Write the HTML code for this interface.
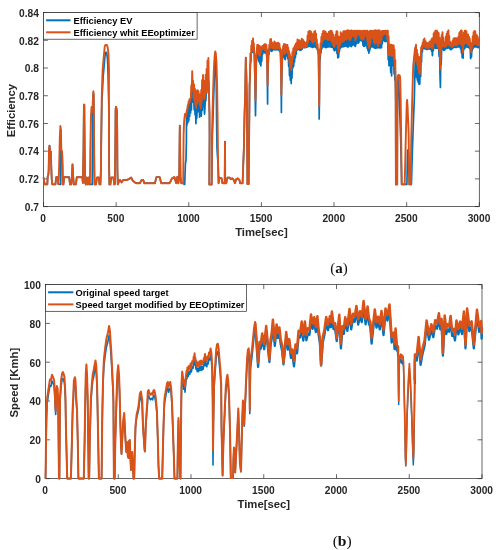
<!DOCTYPE html>
<html><head><meta charset="utf-8"><title>Figure</title>
<style>
html,body{margin:0;padding:0;background:#fff;}
svg{display:block;}
text{font-family:"Liberation Sans",sans-serif;font-weight:bold;fill:#262626;}
.tk{font-size:10.2px;}
.lb{font-size:11.3px;}
.lg{font-size:9.3px;fill:#000;}
.cap{font-family:"Liberation Serif",serif;font-weight:normal;font-size:15px;fill:#111;}
.cap tspan{font-weight:bold;}
</style></head><body>
<svg width="501" height="550" viewBox="0 0 501 550">
<rect width="501" height="550" fill="#fff"/>
<rect x="43.5" y="12.6" width="435.8" height="194.0" fill="none" stroke="#262626" stroke-width="0.7"/>
<path d="M43.50 206.6 V202.2 M43.50 12.6 V17.0" stroke="#262626" stroke-width="0.7"/>
<text x="43.20" y="222.0" text-anchor="middle" class="tk">0</text>
<path d="M116.13 206.6 V202.2 M116.13 12.6 V17.0" stroke="#262626" stroke-width="0.7"/>
<text x="115.83" y="222.0" text-anchor="middle" class="tk">500</text>
<path d="M188.77 206.6 V202.2 M188.77 12.6 V17.0" stroke="#262626" stroke-width="0.7"/>
<text x="188.47" y="222.0" text-anchor="middle" class="tk">1000</text>
<path d="M261.40 206.6 V202.2 M261.40 12.6 V17.0" stroke="#262626" stroke-width="0.7"/>
<text x="261.10" y="222.0" text-anchor="middle" class="tk">1500</text>
<path d="M334.03 206.6 V202.2 M334.03 12.6 V17.0" stroke="#262626" stroke-width="0.7"/>
<text x="333.73" y="222.0" text-anchor="middle" class="tk">2000</text>
<path d="M406.67 206.6 V202.2 M406.67 12.6 V17.0" stroke="#262626" stroke-width="0.7"/>
<text x="406.37" y="222.0" text-anchor="middle" class="tk">2500</text>
<path d="M479.30 206.6 V202.2 M479.30 12.6 V17.0" stroke="#262626" stroke-width="0.7"/>
<text x="479.00" y="222.0" text-anchor="middle" class="tk">3000</text>
<path d="M43.5 206.60 H47.9 M479.3 206.60 H474.90000000000003" stroke="#262626" stroke-width="0.7"/>
<text x="38.9" y="210.90" text-anchor="end" class="tk">0.7</text>
<path d="M43.5 178.89 H47.9 M479.3 178.89 H474.90000000000003" stroke="#262626" stroke-width="0.7"/>
<text x="38.9" y="183.19" text-anchor="end" class="tk">0.72</text>
<path d="M43.5 151.17 H47.9 M479.3 151.17 H474.90000000000003" stroke="#262626" stroke-width="0.7"/>
<text x="38.9" y="155.47" text-anchor="end" class="tk">0.74</text>
<path d="M43.5 123.46 H47.9 M479.3 123.46 H474.90000000000003" stroke="#262626" stroke-width="0.7"/>
<text x="38.9" y="127.76" text-anchor="end" class="tk">0.76</text>
<path d="M43.5 95.74 H47.9 M479.3 95.74 H474.90000000000003" stroke="#262626" stroke-width="0.7"/>
<text x="38.9" y="100.04" text-anchor="end" class="tk">0.78</text>
<path d="M43.5 68.03 H47.9 M479.3 68.03 H474.90000000000003" stroke="#262626" stroke-width="0.7"/>
<text x="38.9" y="72.33" text-anchor="end" class="tk">0.8</text>
<path d="M43.5 40.31 H47.9 M479.3 40.31 H474.90000000000003" stroke="#262626" stroke-width="0.7"/>
<text x="38.9" y="44.61" text-anchor="end" class="tk">0.82</text>
<path d="M43.5 12.60 H47.9 M479.3 12.60 H474.90000000000003" stroke="#262626" stroke-width="0.7"/>
<text x="38.9" y="16.90" text-anchor="end" class="tk">0.84</text>
<polyline points="43.6,177.5 44.2,182.0 45.0,184.4 45.5,184.4 45.9,184.4 46.4,184.4 46.8,184.4 47.3,184.4 47.7,176.5 48.4,174.5 48.7,170.0 49.0,150.0 49.5,145.7 50.0,150.0 50.4,151.6 50.9,151.6 51.2,165.0 51.7,179.0 52.3,184.4 52.8,184.4 53.3,184.4 53.8,184.4 54.4,184.4 54.9,184.4 55.4,184.4 56.2,177.2 56.7,177.2 57.3,177.2 57.8,177.2 58.3,184.0 58.8,184.1 59.2,184.2 59.7,184.3 60.2,184.4 60.6,184.4 60.7,160.0 60.8,130.0 61.3,150.5 62.1,152.0 62.5,165.0 62.8,184.4 63.4,184.4 64.1,177.2 64.6,177.2 65.0,177.2 65.5,177.2 66.0,177.2 66.4,177.2 66.9,177.2 67.3,177.2 67.8,177.2 68.3,177.2 68.7,177.2 69.2,177.2 70.0,184.4 70.7,184.4 71.3,184.4 71.9,177.0 72.5,164.4 73.2,177.0 73.8,184.4 74.3,184.4 74.8,184.4 75.4,184.4 75.9,184.4 76.8,177.2 77.3,177.2 77.7,177.2 78.2,177.2 78.6,177.2 79.1,177.2 79.5,177.2 80.0,177.2 80.5,177.2 80.9,177.2 81.4,177.2 81.8,177.2 82.3,177.2 82.9,183.0 83.5,150.0 83.9,104.6 84.3,104.6 84.7,150.0 85.2,183.0 85.8,184.4 86.6,177.5 87.4,184.4 88.3,177.5 88.8,180.9 89.2,184.4 89.7,184.4 90.2,184.4 90.7,184.4 91.2,184.4 91.7,184.4 92.2,184.4 92.4,150.0 92.6,112.0 93.1,97.0 93.4,93.0 93.7,96.0 94.0,130.0 94.3,170.0 94.6,184.4 95.1,184.4 95.5,184.4 96.0,184.4 96.5,180.9 97.0,177.5 97.6,177.5 98.2,177.5 98.8,177.5 99.5,184.4 100.0,184.4 100.4,184.4 100.9,170.0 101.3,135.0 101.9,100.0 102.5,90.0 103.2,76.0 103.7,70.6 104.2,65.2 104.8,58.0 105.4,53.2 106.1,52.1 106.7,53.2 107.4,58.0 107.8,65.2 108.1,76.0 108.4,90.0 108.7,100.0 108.9,110.0 109.0,135.0 109.1,165.0 109.4,184.4 109.9,184.4 110.4,184.4 111.2,177.5 111.8,177.5 112.3,177.5 112.9,177.5 113.4,177.5 114.2,184.4 114.9,184.0 115.3,150.0 115.6,110.0 115.9,106.8 116.4,108.0 116.9,111.0 117.2,130.0 117.4,170.0 117.8,184.4 118.4,182.9 118.9,181.5 119.5,180.0 120.0,180.0 120.5,180.8 121.1,181.6 121.6,182.4 122.1,181.6 122.7,180.8 123.2,180.0 123.7,180.0 124.1,180.0 124.6,180.0 125.0,180.0 125.5,180.0 125.9,180.0 126.4,180.0 126.9,179.8 127.4,179.7 127.8,179.5 128.3,179.4 128.8,179.2 129.3,178.9 129.8,178.6 130.2,178.2 130.7,177.9 131.2,177.6 132.0,179.2 132.8,180.8 133.3,181.1 133.7,181.5 134.2,181.8 134.6,182.2 135.1,182.5 135.5,182.9 136.0,183.2 136.5,183.2 137.0,183.2 137.5,183.2 138.0,183.2 138.5,183.2 139.0,183.2 139.5,183.2 140.0,183.2 140.5,182.1 141.1,181.1 141.6,180.0 142.1,180.0 142.7,180.0 143.2,180.0 143.8,181.6 144.3,183.2 144.8,183.2 145.2,183.2 145.7,183.2 146.2,183.2 146.6,183.2 147.1,183.2 147.5,183.2 148.0,183.2 148.5,183.2 148.9,183.2 149.4,183.2 149.8,183.2 150.3,183.2 150.7,183.2 151.2,183.2 151.7,183.2 152.1,183.2 152.6,183.2 153.0,183.2 153.5,183.2 154.0,183.2 154.4,183.2 154.9,183.2 155.4,181.2 155.9,179.1 156.5,177.1 156.9,177.1 157.4,177.1 157.9,177.1 158.3,177.1 158.8,177.1 159.2,177.1 159.7,177.1 160.2,179.1 160.7,181.2 161.3,183.2 161.7,183.2 162.2,183.2 162.7,183.2 163.1,183.2 163.6,183.2 164.1,183.2 164.5,183.2 165.0,183.2 165.4,183.2 165.9,183.2 166.4,183.2 166.8,183.2 167.3,183.2 167.8,183.2 168.2,183.2 168.7,183.2 169.1,183.2 169.6,183.2 170.1,182.2 170.6,181.3 171.0,180.3 171.5,179.4 172.0,178.4 172.5,178.1 173.0,177.9 173.4,177.6 173.9,177.4 174.4,177.1 175.2,180.0 175.8,181.6 176.3,183.2 176.8,180.0 177.3,176.8 177.8,180.0 178.4,183.2 179.2,176.8 179.8,125.6 180.5,176.8 181.3,183.2 181.8,183.2 182.2,183.2 182.7,183.2 183.2,183.2 183.7,183.8 184.2,184.4 184.7,184.4 185.4,164.0 186.0,160.0 186.4,142.0 186.5,114.7 186.9,125.6 187.4,109.1 187.8,123.0 188.3,104.6 188.8,120.9 189.2,102.9 189.7,116.5 190.1,101.6 190.6,113.0 191.0,96.6 191.4,109.9 191.9,89.1 192.3,102.3 192.8,88.6 193.2,99.3 193.7,97.5 194.2,110.0 194.6,100.3 195.1,114.9 195.5,104.4 195.9,123.7 196.4,108.5 196.8,118.2 197.3,101.9 197.8,111.9 198.2,100.0 198.7,110.8 199.1,101.0 199.6,117.1 200.0,105.0 200.4,113.9 200.9,107.3 201.3,116.1 201.8,100.8 202.2,110.4 202.7,96.6 203.2,105.8 203.6,96.3 204.1,106.6 204.5,114.1 204.9,108.6 205.4,96.0 205.8,101.0 206.3,91.0 206.8,92.9 207.2,86.5 207.7,84.2 208.1,82.0 208.6,81.0 209.0,89.6 209.5,116.8 209.6,135.0 209.3,184.5 209.8,184.5 210.2,184.5 210.7,184.5 211.2,184.5 211.7,184.5 212.4,135.0 213.2,112.3 213.6,98.6 214.1,85.0 214.7,66.8 215.5,58.6 216.0,66.8 216.4,94.1 216.6,121.4 217.0,148.6 217.5,156.3 218.1,164.0 218.6,183.2 219.0,180.4 219.5,177.6 220.0,177.8 220.6,178.0 221.1,178.2 221.6,178.4 222.4,183.2 223.0,183.2 223.7,183.2 224.2,183.2 224.7,183.2 225.0,141.6 225.2,183.2 225.7,183.2 226.2,183.2 226.8,180.4 227.4,177.6 227.9,177.6 228.4,177.6 228.8,177.6 229.3,177.6 229.8,177.6 230.6,179.2 231.1,178.9 231.7,178.7 232.2,178.4 232.7,178.9 233.3,179.5 233.8,180.0 234.4,181.6 234.9,183.2 235.6,181.2 236.2,179.2 236.7,178.9 237.3,178.7 237.8,178.4 238.3,178.9 238.9,179.5 239.4,180.0 240.2,183.2 240.7,183.2 241.2,183.2 241.6,183.2 242.1,183.2 242.6,183.2 243.2,165.6 243.9,148.0 244.5,116.0 245.0,100.0 245.2,92.0 245.8,57.6 246.4,76.0 246.9,100.0 247.1,132.0 247.4,184.0 248.0,184.0 248.7,184.0 249.0,148.0 249.6,85.5 250.0,76.9 250.4,64.4 250.9,61.3 251.3,52.5 251.7,52.6 252.1,50.0 252.5,52.1 253.0,49.7 253.4,52.2 253.8,50.4 254.2,52.9 254.6,61.6 255.1,91.4 255.5,115.7 255.9,89.7 256.3,59.1 256.7,55.7 257.2,52.5 257.6,57.5 258.0,52.2 258.4,60.6 258.8,54.7 259.3,62.3 259.7,55.2 260.1,64.1 260.5,53.4 260.9,65.9 261.4,50.2 261.8,61.2 262.2,49.4 262.6,54.7 263.0,48.3 263.5,51.6 263.9,48.4 264.3,52.7 264.7,48.9 265.1,52.9 265.6,49.9 266.0,53.1 266.4,50.9 266.8,57.5 267.2,66.8 267.6,104.0 267.7,82.1 268.1,68.5 268.5,53.7 268.9,54.8 269.3,48.6 269.8,50.6 270.2,47.8 270.6,50.2 271.0,47.4 271.4,51.3 271.9,47.3 272.3,50.8 272.7,47.7 273.1,49.5 273.5,48.0 274.0,49.7 274.4,48.2 274.8,49.8 275.2,48.1 275.6,49.9 276.1,47.9 276.5,49.7 276.9,47.7 277.3,49.6 277.7,48.0 278.2,49.7 278.6,48.2 279.0,50.5 279.4,48.8 279.8,51.3 280.3,50.1 280.7,58.2 281.1,77.7 281.4,112.4 281.5,88.5 281.9,72.9 282.4,54.7 282.8,57.3 283.2,50.6 283.6,56.0 284.0,52.2 284.5,58.9 284.9,52.8 285.3,59.7 285.7,51.8 286.1,56.1 286.6,51.0 287.0,55.3 287.4,51.9 287.8,58.6 288.2,54.2 288.7,66.4 289.1,59.8 289.5,75.8 289.9,64.2 290.3,80.2 290.8,69.4 291.2,83.6 291.6,68.2 292.0,78.2 292.4,60.4 292.9,68.0 293.3,55.5 293.7,66.3 294.1,54.2 294.5,61.9 295.0,51.7 295.4,57.6 295.8,49.6 296.2,54.2 296.6,48.7 297.1,49.9 297.5,47.9 297.9,49.6 298.3,47.1 298.7,49.4 299.2,47.4 299.6,49.8 300.0,47.7 300.4,50.5 300.8,47.6 301.3,49.9 301.7,47.3 302.1,49.1 302.5,46.9 302.9,47.7 303.4,46.6 303.8,47.6 304.2,46.5 304.6,47.6 305.0,46.5 305.5,47.5 305.9,46.3 306.3,47.3 306.7,45.6 307.1,47.0 307.6,43.6 308.0,46.8 308.4,40.2 308.8,46.1 309.2,38.2 309.7,46.3 310.1,38.3 310.5,46.7 310.9,39.2 311.3,46.9 311.8,40.6 312.2,47.3 312.6,41.6 313.0,47.4 313.4,41.8 313.9,47.0 314.3,39.0 314.7,46.7 315.1,40.3 315.5,47.3 316.0,42.3 316.4,47.9 316.8,45.8 317.2,49.6 317.6,49.3 318.1,52.7 318.5,54.5 318.9,80.2 319.2,118.9 319.3,107.7 319.7,61.4 320.2,58.6 320.6,48.6 321.0,52.9 321.4,44.7 321.8,48.9 322.3,41.9 322.7,46.9 323.1,39.7 323.5,46.9 323.9,38.6 324.4,46.6 324.8,38.7 325.2,47.5 325.6,37.9 326.0,47.7 326.5,38.7 326.9,47.3 327.3,39.8 327.7,46.9 328.1,39.8 328.6,47.0 329.0,39.2 329.4,46.7 329.8,39.2 330.2,46.8 330.7,39.3 331.1,47.2 331.5,40.5 331.9,47.1 332.3,42.1 332.8,47.4 333.2,44.1 333.6,49.5 334.0,46.6 334.4,50.8 334.9,45.0 335.3,49.2 335.7,43.2 336.1,50.4 336.5,42.2 337.0,53.5 337.4,45.4 337.8,58.0 338.2,49.6 338.6,57.1 339.1,49.3 339.5,51.3 339.9,44.9 340.3,48.3 340.7,42.5 341.2,47.3 341.6,41.7 342.0,46.6 342.4,41.2 342.8,46.9 343.3,40.8 343.7,46.6 344.1,40.2 344.5,46.5 344.9,39.7 345.4,46.0 345.8,39.3 346.2,46.4 346.6,38.8 347.0,46.5 347.5,37.9 347.9,47.2 348.3,38.1 348.7,46.4 349.1,39.4 349.6,45.6 350.0,39.7 350.4,46.0 350.8,38.3 351.2,46.7 351.7,35.9 352.1,45.6 352.5,34.8 352.9,45.0 353.3,34.8 353.8,44.1 354.2,35.7 354.6,45.7 355.0,40.9 355.4,46.4 355.9,38.9 356.3,43.9 356.7,36.4 357.1,42.7 357.5,33.9 358.0,43.2 358.4,33.5 358.8,42.8 359.2,34.0 359.6,40.9 360.1,36.1 360.5,40.4 360.9,38.4 361.3,40.7 361.7,37.9 362.2,41.5 362.6,38.3 363.0,45.3 363.4,40.1 363.8,46.4 364.3,36.1 364.7,46.1 365.1,34.5 365.5,44.0 365.9,34.8 366.4,45.8 366.8,37.7 367.2,48.4 367.6,42.8 368.0,50.8 368.5,46.5 368.9,53.3 369.3,48.2 369.7,50.6 370.1,44.8 370.6,47.9 371.0,39.4 371.4,46.6 371.8,36.4 372.2,46.8 372.7,36.3 373.1,46.9 373.5,40.6 373.9,47.6 374.3,42.8 374.8,48.1 375.2,42.2 375.6,48.3 376.0,40.0 376.4,47.8 376.9,41.9 377.3,47.9 377.7,43.6 378.1,47.6 378.5,45.4 379.0,47.7 379.4,42.2 379.8,47.9 380.2,42.4 380.6,47.8 381.1,42.0 381.5,47.7 381.9,37.4 382.3,43.6 382.7,34.0 383.2,40.7 383.6,32.8 384.0,40.3 384.4,34.1 384.8,41.4 385.3,33.0 385.7,41.6 386.1,34.1 386.5,41.0 386.9,35.9 387.4,42.0 387.8,41.0 388.2,59.8 388.6,52.8 389.0,65.7 389.5,55.6 389.9,63.1 390.3,54.2 390.7,72.6 391.1,55.9 391.6,75.9 392.0,54.2 392.4,65.8 392.8,53.6 393.2,59.3 393.7,57.6 394.1,74.1 394.5,64.1 394.9,80.3 395.3,71.4 395.7,100.0 395.9,184.4 397.2,184.4 397.4,100.0 397.6,81.0 397.9,79.0 398.3,82.0 398.7,80.0 399.0,90.0 399.4,104.0 399.9,116.0 400.7,140.0 401.7,184.4 406.9,184.4 407.3,165.0 407.6,150.0 408.2,150.0 408.7,160.0 409.3,184.4 411.4,184.4 412.4,150.0 413.6,116.0 414.3,100.0 414.8,78.0 415.2,61.7 415.6,72.5 416.0,59.8 416.5,77.3 416.9,60.3 417.3,79.9 417.7,67.0 418.1,82.3 418.6,70.5 419.0,84.3 419.4,72.6 419.8,84.1 420.2,70.1 420.7,76.5 421.1,57.8 421.5,62.1 421.9,48.8 422.3,52.1 422.8,47.1 423.2,48.4 423.6,46.1 424.0,48.4 424.4,46.4 424.9,48.8 425.3,46.6 425.7,49.0 426.1,47.2 426.5,49.3 427.0,47.4 427.4,49.3 427.8,47.6 428.2,49.0 428.6,47.2 429.1,48.8 429.5,46.6 429.9,48.8 430.3,46.7 430.7,49.3 431.2,47.1 431.6,51.1 432.0,47.6 432.4,55.6 432.8,48.4 433.3,50.6 433.7,43.8 434.1,47.7 434.5,41.9 434.9,48.0 435.4,41.4 435.8,48.4 436.2,42.4 436.6,48.1 437.0,44.1 437.5,48.1 437.9,46.2 438.3,48.6 438.7,47.0 439.1,56.4 439.6,52.1 440.0,75.6 440.4,87.2 440.4,87.4 440.8,55.4 441.2,64.8 441.7,45.8 442.1,48.8 442.5,45.6 442.9,49.4 443.3,45.5 443.8,50.5 444.2,45.9 444.6,50.2 445.0,46.3 445.4,48.8 445.9,45.9 446.3,48.5 446.7,45.4 447.1,48.3 447.5,44.6 448.0,48.0 448.4,43.7 448.8,48.0 449.2,44.3 449.6,48.7 450.1,45.3 450.5,49.6 450.9,45.8 451.3,49.4 451.7,46.3 452.2,48.7 452.6,46.0 453.0,48.0 453.4,45.1 453.8,47.5 454.3,44.4 454.7,47.2 455.1,44.2 455.5,47.5 455.9,45.2 456.4,47.4 456.8,44.6 457.2,47.0 457.6,43.6 458.0,47.0 458.5,43.3 458.9,46.9 459.3,42.5 459.7,47.0 460.1,42.8 460.6,48.9 461.0,43.3 461.4,53.0 461.8,45.2 462.2,57.6 462.7,49.8 463.1,58.1 463.5,45.5 463.9,49.8 464.3,43.3 464.8,48.5 465.2,42.6 465.6,47.0 466.0,42.8 466.4,46.8 466.9,43.1 467.3,47.2 467.7,43.7 468.1,47.2 468.5,44.1 469.0,47.8 469.4,45.1 469.8,48.7 470.2,47.4 470.6,58.6 471.1,51.3 471.5,57.0 471.9,48.0 472.3,50.3 472.7,45.3 473.2,48.3 473.6,43.5 474.0,46.8 474.4,42.6 474.8,47.0 475.3,43.0 475.7,47.0 476.1,43.6 476.5,47.0 476.9,44.3 477.4,47.4 477.8,44.9 478.2,47.7 478.6,45.3 479.0,47.6" fill="none" stroke="#0072BD" stroke-width="1.7" stroke-linejoin="round"/>
<polyline points="43.6,177.5 44.2,182.0 45.0,184.4 45.5,184.4 45.9,184.4 46.4,184.4 46.8,184.4 47.3,184.4 47.7,176.5 48.4,174.5 48.7,170.0 49.0,150.0 49.5,145.7 50.0,150.0 50.4,151.6 50.9,151.6 51.2,165.0 51.7,179.0 52.3,184.4 52.8,184.4 53.3,184.4 53.8,184.4 54.4,184.4 54.9,184.4 55.4,184.4 56.2,177.2 56.7,177.2 57.3,177.2 57.8,177.2 58.3,184.0 58.8,178.0 59.3,160.0 59.8,138.0 60.4,126.0 60.9,130.0 61.3,150.0 62.1,151.6 62.5,165.0 62.8,184.4 63.4,184.4 64.1,177.2 64.6,177.2 65.0,177.2 65.5,177.2 66.0,177.2 66.4,177.2 66.9,177.2 67.3,177.2 67.8,177.2 68.3,177.2 68.7,177.2 69.2,177.2 70.0,184.4 70.7,184.4 71.3,184.4 71.9,177.0 72.5,164.4 73.2,177.0 73.8,184.4 74.3,184.4 74.8,184.4 75.4,184.4 75.9,184.4 76.8,177.2 77.3,177.2 77.7,177.2 78.2,177.2 78.6,177.2 79.1,177.2 79.5,177.2 80.0,177.2 80.5,177.2 80.9,177.2 81.4,177.2 81.8,177.2 82.3,177.2 82.9,183.0 83.5,150.0 83.9,104.6 84.3,104.6 84.7,150.0 85.2,183.0 85.8,184.4 86.6,177.5 87.4,184.4 88.3,177.5 88.8,180.9 89.2,184.4 89.9,184.0 90.3,150.0 91.0,115.0 91.6,107.0 92.2,112.0 92.6,108.0 93.1,95.0 93.4,91.2 93.7,95.0 94.0,130.0 94.3,170.0 94.6,184.4 95.1,184.4 95.5,184.4 96.0,184.4 96.5,180.9 97.0,177.5 97.6,177.5 98.2,177.5 98.8,177.5 99.5,184.4 100.0,184.4 100.4,184.4 100.9,170.0 101.3,135.0 101.7,100.0 102.1,85.0 102.6,70.0 103.1,64.7 103.5,59.3 104.0,54.0 104.8,46.0 105.6,44.9 106.2,44.9 106.9,44.9 107.7,47.6 108.5,54.0 109.0,70.0 108.9,94.0 108.9,110.0 109.0,135.0 109.1,165.0 109.4,184.4 109.9,184.4 110.4,184.4 111.2,177.5 111.8,177.5 112.3,177.5 112.9,177.5 113.4,177.5 114.2,184.4 114.9,184.0 115.3,150.0 115.6,110.0 115.9,106.8 116.4,108.0 116.9,111.0 117.2,130.0 117.4,170.0 117.8,184.4 118.4,182.9 118.9,181.5 119.5,180.0 120.0,180.0 120.5,180.8 121.1,181.6 121.6,182.4 122.1,181.6 122.7,180.8 123.2,180.0 123.7,180.0 124.1,180.0 124.6,180.0 125.0,180.0 125.5,180.0 125.9,180.0 126.4,180.0 126.9,179.8 127.4,179.7 127.8,179.5 128.3,179.4 128.8,179.2 129.3,178.9 129.8,178.6 130.2,178.2 130.7,177.9 131.2,177.6 132.0,179.2 132.8,180.8 133.3,181.1 133.7,181.5 134.2,181.8 134.6,182.2 135.1,182.5 135.5,182.9 136.0,183.2 136.5,183.2 137.0,183.2 137.5,183.2 138.0,183.2 138.5,183.2 139.0,183.2 139.5,183.2 140.0,183.2 140.5,182.1 141.1,181.1 141.6,180.0 142.1,180.0 142.7,180.0 143.2,180.0 143.8,181.6 144.3,183.2 144.8,183.2 145.2,183.2 145.7,183.2 146.2,183.2 146.6,183.2 147.1,183.2 147.5,183.2 148.0,183.2 148.5,183.2 148.9,183.2 149.4,183.2 149.8,183.2 150.3,183.2 150.7,183.2 151.2,183.2 151.7,183.2 152.1,183.2 152.6,183.2 153.0,183.2 153.5,183.2 154.0,183.2 154.4,183.2 154.9,183.2 155.4,181.2 155.9,179.1 156.5,177.1 156.9,177.1 157.4,177.1 157.9,177.1 158.3,177.1 158.8,177.1 159.2,177.1 159.7,177.1 160.2,179.1 160.7,181.2 161.3,183.2 161.7,183.2 162.2,183.2 162.7,183.2 163.1,183.2 163.6,183.2 164.1,183.2 164.5,183.2 165.0,183.2 165.4,183.2 165.9,183.2 166.4,183.2 166.8,183.2 167.3,183.2 167.8,183.2 168.2,183.2 168.7,183.2 169.1,183.2 169.6,183.2 170.1,182.2 170.6,181.3 171.0,180.3 171.5,179.4 172.0,178.4 172.5,178.1 173.0,177.9 173.4,177.6 173.9,177.4 174.4,177.1 175.2,180.0 175.8,181.6 176.3,183.2 176.8,180.0 177.3,176.8 177.8,180.0 178.4,183.2 179.2,176.8 179.8,125.6 180.5,176.8 181.3,183.2 181.8,183.2 182.2,183.2 182.7,183.2 183.2,183.2 183.6,135.0 184.1,121.4 184.6,117.0 185.0,113.9 185.4,116.6 185.9,113.4 186.3,116.0 186.8,110.7 187.2,110.8 187.7,105.6 188.2,106.2 188.6,101.5 189.1,102.8 189.5,99.3 189.9,101.8 190.4,98.6 190.8,98.5 191.3,85.2 191.8,90.0 192.2,71.2 192.7,89.0 193.1,80.7 193.6,97.9 194.0,84.3 194.4,100.6 194.9,88.4 195.3,104.3 195.8,93.1 196.2,107.8 196.7,90.7 197.2,103.2 197.6,90.1 198.1,100.7 198.5,91.1 198.9,101.4 199.4,94.3 199.8,104.8 200.3,97.5 200.8,108.0 201.2,89.9 201.7,102.4 202.1,79.9 202.6,97.5 203.0,75.0 203.4,96.0 203.9,80.6 204.3,99.3 204.8,80.9 205.2,96.0 205.7,74.8 206.2,92.5 206.6,68.9 207.1,88.4 207.5,60.4 207.9,82.4 208.4,57.9 208.8,82.4 209.3,109.9 209.5,112.3 209.6,135.0 209.3,184.5 209.8,184.5 210.2,184.5 210.7,184.5 211.2,184.5 211.7,184.5 212.0,135.0 212.5,112.3 213.3,85.0 213.7,73.6 214.2,62.3 214.9,53.2 215.3,51.4 215.8,53.2 216.5,62.3 217.1,85.0 217.5,112.3 218.1,164.0 218.6,183.2 219.0,180.4 219.5,177.6 220.0,177.8 220.6,178.0 221.1,178.2 221.6,178.4 222.4,183.2 223.0,183.2 223.7,183.2 224.2,183.2 224.7,183.2 225.0,141.6 225.2,183.2 225.7,183.2 226.2,183.2 226.8,180.4 227.4,177.6 227.9,177.6 228.4,177.6 228.8,177.6 229.3,177.6 229.8,177.6 230.6,179.2 231.1,178.9 231.7,178.7 232.2,178.4 232.7,178.9 233.3,179.5 233.8,180.0 234.4,181.6 234.9,183.2 235.6,181.2 236.2,179.2 236.7,178.9 237.3,178.7 237.8,178.4 238.3,178.9 238.9,179.5 239.4,180.0 240.2,183.2 240.7,183.2 241.2,183.2 241.6,183.2 242.1,183.2 242.6,183.2 243.2,165.6 243.9,148.0 244.5,116.0 245.0,100.0 245.2,92.0 245.8,57.6 246.4,76.0 246.9,100.0 247.1,132.0 247.4,184.0 248.0,184.0 248.7,184.0 249.0,148.0 249.5,100.0 249.6,86.0 250.0,73.4 250.4,53.6 250.9,58.6 251.3,45.4 251.7,51.2 252.1,40.7 252.5,49.8 253.0,38.4 253.4,50.6 253.8,43.3 254.2,51.0 254.6,59.4 255.1,81.4 255.5,100.8 255.9,80.6 256.3,54.7 256.7,53.1 257.2,45.0 257.6,52.4 258.0,44.8 258.4,53.9 258.8,45.8 259.3,55.8 259.7,46.0 260.1,55.4 260.5,47.0 260.9,52.6 261.4,46.9 261.8,49.7 262.2,46.3 262.6,48.8 263.0,45.6 263.5,48.7 263.9,44.8 264.3,48.8 264.7,44.3 265.1,50.1 265.6,44.2 266.0,50.9 266.4,45.0 266.8,54.5 267.2,64.5 267.6,85.5 267.7,82.7 268.1,62.4 268.5,49.4 268.9,51.7 269.3,44.7 269.8,48.2 270.2,39.4 270.6,47.4 271.0,38.9 271.4,47.3 271.9,42.2 272.3,48.1 272.7,43.7 273.1,48.0 273.5,43.2 274.0,48.4 274.4,41.4 274.8,48.9 275.2,42.5 275.6,48.4 276.1,43.3 276.5,48.4 276.9,43.3 277.3,48.1 277.7,42.7 278.2,48.4 278.6,43.3 279.0,48.9 279.4,43.8 279.8,49.5 280.3,48.4 280.7,56.0 281.1,76.0 281.4,94.9 281.5,88.8 281.9,66.7 282.4,49.8 282.8,52.8 283.2,45.9 283.6,51.6 284.0,44.0 284.5,53.9 284.9,44.5 285.3,53.0 285.7,44.5 286.1,51.9 286.6,45.1 287.0,51.7 287.4,44.9 287.8,52.9 288.2,47.6 288.7,57.0 289.1,51.1 289.5,62.5 289.9,54.2 290.3,67.4 290.8,58.6 291.2,70.2 291.6,56.9 292.0,63.9 292.4,52.0 292.9,57.9 293.3,48.4 293.7,55.3 294.1,47.2 294.5,54.3 295.0,45.2 295.4,50.7 295.8,43.8 296.2,49.7 296.6,42.7 297.1,48.6 297.5,39.4 297.9,47.8 298.3,41.8 298.7,48.0 299.2,40.2 299.6,48.0 300.0,40.9 300.4,48.1 300.8,41.8 301.3,47.5 301.7,38.7 302.1,47.8 302.5,39.5 302.9,46.8 303.4,40.1 303.8,47.0 304.2,41.7 304.6,47.0 305.0,42.8 305.5,47.0 305.9,42.8 306.3,46.3 306.7,41.8 307.1,45.9 307.6,35.4 308.0,42.7 308.4,31.6 308.8,39.3 309.2,30.9 309.7,38.2 310.1,31.3 310.5,39.0 310.9,31.4 311.3,40.3 311.8,33.1 312.2,42.0 312.6,34.3 313.0,42.7 313.4,34.3 313.9,40.8 314.3,31.6 314.7,40.0 315.1,30.9 315.5,41.2 316.0,33.4 316.4,44.7 316.8,39.2 317.2,48.2 317.6,44.3 318.1,51.7 318.5,49.5 318.9,80.5 319.2,106.2 319.3,97.0 319.7,56.6 320.2,52.3 320.6,43.1 321.0,47.1 321.4,36.7 321.8,43.4 322.3,33.7 322.7,40.9 323.1,31.2 323.5,39.7 323.9,30.9 324.4,39.0 324.8,31.6 325.2,38.6 325.6,31.8 326.0,38.0 326.5,33.5 326.9,39.1 327.3,34.1 327.7,40.0 328.1,33.5 328.6,39.9 329.0,31.6 329.4,38.9 329.8,31.4 330.2,39.7 330.7,30.8 331.1,40.4 331.5,30.9 331.9,42.2 332.3,32.1 332.8,43.6 333.2,34.7 333.6,46.1 334.0,37.3 334.4,46.7 334.9,39.3 335.3,44.0 335.7,34.4 336.1,43.1 336.5,31.3 337.0,43.8 337.4,31.8 337.8,47.7 338.2,36.5 338.6,52.2 339.1,40.1 339.5,46.8 339.9,36.8 340.3,44.4 340.7,32.2 341.2,42.1 341.6,33.6 342.0,41.7 342.4,33.4 342.8,41.6 343.3,31.5 343.7,40.5 344.1,31.0 344.5,40.0 344.9,31.4 345.4,39.4 345.8,31.2 346.2,39.6 346.6,30.9 347.0,38.3 347.5,30.3 347.9,38.2 348.3,30.5 348.7,38.8 349.1,30.7 349.6,40.0 350.0,31.1 350.4,39.6 350.8,30.5 351.2,37.8 351.7,30.5 352.1,36.1 352.5,31.0 352.9,34.4 353.3,31.2 353.8,35.6 354.2,30.8 354.6,36.8 355.0,30.8 355.4,40.1 355.9,31.0 356.3,37.8 356.7,30.7 357.1,35.3 357.5,30.7 358.0,33.8 358.4,30.9 358.8,33.6 359.2,30.7 359.6,35.4 360.1,30.8 360.5,37.5 360.9,31.1 361.3,38.9 361.7,31.1 362.2,37.9 362.6,30.8 363.0,39.6 363.4,30.9 363.8,38.4 364.3,30.8 364.7,35.4 365.1,30.8 365.5,34.8 365.9,30.9 366.4,36.5 366.8,30.6 367.2,40.4 367.6,30.8 368.0,44.7 368.5,31.7 368.9,47.8 369.3,31.7 369.7,46.6 370.1,30.6 370.6,42.5 371.0,30.6 371.4,37.3 371.8,31.0 372.2,35.7 372.7,31.0 373.1,38.8 373.5,31.1 373.9,42.0 374.3,30.4 374.8,43.7 375.2,30.3 375.6,41.9 376.0,31.2 376.4,41.6 376.9,30.5 377.3,43.4 377.7,31.5 378.1,45.9 378.5,30.2 379.0,43.6 379.4,30.5 379.8,41.5 380.2,31.1 380.6,43.1 381.1,31.5 381.5,39.8 381.9,31.1 382.3,36.1 382.7,30.9 383.2,33.3 383.6,30.9 384.0,34.1 384.4,30.9 384.8,33.8 385.3,30.7 385.7,33.4 386.1,30.9 386.5,34.8 386.9,30.7 387.4,39.1 387.8,30.6 388.2,45.9 388.6,36.3 389.0,55.3 389.5,44.2 389.9,55.4 390.3,45.0 390.7,55.1 391.1,44.6 391.6,55.8 392.0,45.3 392.4,54.4 392.8,45.1 393.2,56.0 393.7,45.5 394.1,59.7 394.5,49.5 394.9,67.6 395.3,60.2 395.7,100.0 395.9,184.4 397.2,184.4 397.4,100.0 397.6,78.0 397.9,75.5 398.3,78.0 398.7,75.0 399.2,78.5 399.7,75.5 400.2,78.0 400.7,100.0 401.2,140.0 401.7,184.4 404.7,184.4 405.3,160.0 405.9,133.0 406.8,102.0 407.1,100.0 407.5,105.0 408.6,133.0 409.3,184.4 410.8,184.4 411.2,140.0 412.2,100.0 413.2,66.0 414.3,55.0 415.2,47.3 415.6,61.0 416.0,44.8 416.5,60.1 416.9,49.7 417.3,64.5 417.7,54.0 418.1,68.8 418.6,57.0 419.0,73.0 419.4,59.2 419.8,74.0 420.2,56.6 420.7,64.5 421.1,47.4 421.5,51.8 421.9,45.5 422.3,48.2 422.8,42.4 423.2,46.6 423.6,39.6 424.0,46.5 424.4,38.4 424.9,46.6 425.3,40.9 425.7,47.5 426.1,42.2 426.5,47.6 427.0,43.0 427.4,48.3 427.8,43.8 428.2,47.9 428.6,43.0 429.1,47.1 429.5,41.6 429.9,47.1 430.3,41.4 430.7,47.2 431.2,39.9 431.6,47.2 432.0,38.5 432.4,48.4 432.8,38.1 433.3,46.6 433.7,33.4 434.1,42.8 434.5,32.1 434.9,42.3 435.4,30.7 435.8,41.9 436.2,30.6 436.6,43.2 437.0,30.7 437.5,46.0 437.9,32.1 438.3,47.4 438.7,33.0 439.1,50.2 439.6,37.8 440.0,55.9 440.4,69.2 440.4,68.4 440.8,42.9 441.2,50.1 441.7,35.1 442.1,46.6 442.5,32.3 442.9,46.1 443.3,37.5 443.8,46.2 444.2,43.0 444.6,46.9 445.0,42.5 445.4,46.6 445.9,36.4 446.3,45.7 446.7,33.8 447.1,44.6 447.5,31.7 448.0,43.7 448.4,30.3 448.8,44.5 449.2,35.9 449.6,45.0 450.1,41.6 450.5,45.8 450.9,43.5 451.3,46.4 451.7,43.0 452.2,47.0 452.6,40.6 453.0,46.2 453.4,38.8 453.8,44.8 454.3,38.2 454.7,45.0 455.1,38.3 455.5,45.4 455.9,38.3 456.4,45.5 456.8,38.3 457.2,44.8 457.6,38.4 458.0,43.8 458.5,36.5 458.9,43.6 459.3,32.9 459.7,43.1 460.1,31.8 460.6,43.9 461.0,30.4 461.4,44.3 461.8,30.8 462.2,45.4 462.7,44.6 462.9,52.4 463.1,43.5 463.5,45.6 463.9,32.4 464.3,43.6 464.8,30.8 465.2,43.1 465.6,30.6 466.0,43.1 466.4,31.2 466.9,43.1 467.3,35.4 467.7,44.1 468.1,34.4 468.5,44.9 469.0,36.8 469.4,45.8 469.8,38.7 470.2,47.6 470.6,43.0 471.1,51.5 471.2,52.3 471.5,51.0 471.9,43.1 472.3,46.9 472.7,36.3 473.2,44.5 473.6,32.1 474.0,42.4 474.4,31.0 474.8,43.7 475.3,31.5 475.7,43.4 476.1,34.7 476.5,44.0 476.9,35.2 477.4,44.8 477.8,37.0 478.2,45.4 478.6,39.1 479.0,46.1" fill="none" stroke="#D95319" stroke-width="1.9" stroke-linejoin="round"/>
<text x="261.4" y="235.9" text-anchor="middle" class="lb">Time[sec]</text>
<text transform="translate(14.6 110.6) rotate(-90)" text-anchor="middle" class="lb">Efficiency</text>
<rect x="43.5" y="12.6" width="153.6" height="26.6" fill="#fff" stroke="#262626" stroke-width="0.7"/>
<line x1="46.1" x2="70.5" y1="20.3" y2="20.3" stroke="#0072BD" stroke-width="2"/>
<text x="73.5" y="23.6" class="lg">Efficiency EV</text>
<line x1="46.1" x2="70.5" y1="32.3" y2="32.3" stroke="#D95319" stroke-width="2"/>
<text x="73.5" y="35.6" class="lg">Efficiency whit EEoptimizer</text>
<text x="339.1" y="272.5" text-anchor="middle" class="cap">(<tspan>a</tspan>)</text>
<rect x="45.5" y="284.6" width="436.5" height="194.0" fill="none" stroke="#262626" stroke-width="0.7"/>
<path d="M45.50 478.6 V474.20000000000005 M45.50 284.6 V289.0" stroke="#262626" stroke-width="0.7"/>
<text x="45.20" y="494.0" text-anchor="middle" class="tk">0</text>
<path d="M118.25 478.6 V474.20000000000005 M118.25 284.6 V289.0" stroke="#262626" stroke-width="0.7"/>
<text x="117.95" y="494.0" text-anchor="middle" class="tk">500</text>
<path d="M191.00 478.6 V474.20000000000005 M191.00 284.6 V289.0" stroke="#262626" stroke-width="0.7"/>
<text x="190.70" y="494.0" text-anchor="middle" class="tk">1000</text>
<path d="M263.75 478.6 V474.20000000000005 M263.75 284.6 V289.0" stroke="#262626" stroke-width="0.7"/>
<text x="263.45" y="494.0" text-anchor="middle" class="tk">1500</text>
<path d="M336.50 478.6 V474.20000000000005 M336.50 284.6 V289.0" stroke="#262626" stroke-width="0.7"/>
<text x="336.20" y="494.0" text-anchor="middle" class="tk">2000</text>
<path d="M409.25 478.6 V474.20000000000005 M409.25 284.6 V289.0" stroke="#262626" stroke-width="0.7"/>
<text x="408.95" y="494.0" text-anchor="middle" class="tk">2500</text>
<path d="M482.00 478.6 V474.20000000000005 M482.00 284.6 V289.0" stroke="#262626" stroke-width="0.7"/>
<text x="481.70" y="494.0" text-anchor="middle" class="tk">3000</text>
<path d="M45.5 478.60 H49.9 M482.0 478.60 H477.6" stroke="#262626" stroke-width="0.7"/>
<text x="40.9" y="482.90" text-anchor="end" class="tk">0</text>
<path d="M45.5 439.80 H49.9 M482.0 439.80 H477.6" stroke="#262626" stroke-width="0.7"/>
<text x="40.9" y="444.10" text-anchor="end" class="tk">20</text>
<path d="M45.5 401.00 H49.9 M482.0 401.00 H477.6" stroke="#262626" stroke-width="0.7"/>
<text x="40.9" y="405.30" text-anchor="end" class="tk">40</text>
<path d="M45.5 362.20 H49.9 M482.0 362.20 H477.6" stroke="#262626" stroke-width="0.7"/>
<text x="40.9" y="366.50" text-anchor="end" class="tk">60</text>
<path d="M45.5 323.40 H49.9 M482.0 323.40 H477.6" stroke="#262626" stroke-width="0.7"/>
<text x="40.9" y="327.70" text-anchor="end" class="tk">80</text>
<path d="M45.5 284.60 H49.9 M482.0 284.60 H477.6" stroke="#262626" stroke-width="0.7"/>
<text x="40.9" y="288.90" text-anchor="end" class="tk">100</text>
<polyline points="45.5,478.6 45.7,470.0 46.0,440.4 46.5,418.0 47.2,402.8 48.8,392.3 49.9,385.5 50.9,386.3 52.0,381.0 53.1,383.3 54.1,386.3 54.7,395.3 55.3,409.2 55.7,414.5 56.2,400.0 56.8,391.6 57.6,393.8 58.1,402.8 58.6,442.3 59.0,478.6 59.4,478.6 59.7,440.4 60.0,402.8 61.1,386.3 62.1,379.5 62.9,378.4 63.7,380.3 64.5,383.3 65.0,392.3 65.5,402.8 65.9,427.6 66.7,458.0 67.2,478.6 70.9,478.6 71.9,442.3 72.6,413.6 73.2,402.8 73.9,386.3 74.9,383.3 75.5,386.3 76.2,402.8 76.6,406.5 77.1,415.3 77.4,426.7 77.8,442.3 78.4,478.6 83.8,478.6 84.6,442.3 85.2,406.5 85.8,380.3 86.4,371.3 87.0,380.3 87.7,402.8 88.2,440.4 88.7,478.6 89.2,478.6 89.8,440.4 90.9,402.8 92.0,387.8 92.8,380.3 93.6,377.3 94.4,372.8 95.5,367.5 96.3,372.8 97.0,387.8 97.4,402.8 98.9,478.6 101.6,478.6 102.2,422.3 102.6,402.8 103.2,380.3 104.0,365.2 105.3,354.7 106.4,347.2 107.2,344.2 108.0,341.2 109.1,335.2 109.9,339.7 110.4,347.2 111.2,357.7 112.0,372.8 112.8,387.8 113.4,402.8 113.9,478.6 114.7,478.6 115.3,440.4 116.5,402.8 117.3,380.3 118.2,372.0 119.0,380.3 119.6,395.3 120.3,422.3 121.0,445.2 121.5,454.0 122.2,440.4 123.3,422.3 124.2,416.2 125.5,440.4 126.3,452.0 127.0,442.3 127.8,456.0 128.5,458.0 129.0,441.3 129.8,440.4 130.3,455.0 131.0,470.0 131.6,458.0 132.2,452.0 132.8,465.0 133.5,478.6 134.2,478.6 134.6,458.0 135.5,427.6 136.6,417.8 137.7,413.6 138.7,409.2 139.8,399.1 140.1,398.3 140.9,396.8 141.7,401.3 142.2,404.7 143.0,427.6 144.6,450.0 145.0,451.5 145.7,427.6 146.7,413.6 147.5,403.8 147.8,396.8 148.6,395.3 149.4,398.3 150.5,399.8 151.5,398.3 152.6,399.8 153.4,396.1 154.2,395.3 155.0,398.3 155.8,402.8 156.9,413.6 157.9,442.3 158.5,466.0 159.2,478.6 162.2,478.6 162.7,458.0 163.5,427.6 164.3,406.5 164.6,402.8 165.9,395.3 167.0,389.3 167.8,387.8 168.6,392.3 169.4,389.3 170.2,387.8 171.0,392.3 171.8,402.8 172.3,413.6 173.1,434.8 173.9,458.0 174.5,478.6 177.4,478.6 177.9,442.3 178.5,420.6 179.3,458.0 180.1,476.0 180.5,478.6 180.9,440.4 181.3,402.8 181.6,387.8 182.2,378.0 183.0,383.3 183.8,389.3 184.6,386.3 185.0,392.3 185.8,383.3 186.6,376.4 187.0,378.8 187.4,373.2 188.2,376.4 189.0,371.6 189.8,374.4 190.6,369.2 191.4,372.0 192.2,366.8 193.0,368.4 193.8,362.0 194.2,364.4 194.6,358.8 195.0,365.2 195.4,363.6 196.0,369.2 196.5,366.8 197.2,371.6 197.8,368.4 198.6,371.6 199.4,366.8 200.2,370.4 201.0,366.0 201.8,370.4 202.6,366.8 203.2,369.2 203.9,363.6 204.4,365.6 205.0,359.6 205.6,365.6 206.1,363.6 206.8,366.8 207.4,362.0 208.2,364.0 209.0,358.0 209.8,360.0 210.6,354.0 211.4,360.7 212.2,372.8 212.7,402.8 213.0,465.0 213.4,422.3 214.1,387.8 215.1,372.8 216.2,357.7 217.0,352.5 217.8,351.7 218.6,356.2 219.4,365.2 220.5,377.3 221.2,390.8 221.5,427.6 222.6,475.6 223.4,442.3 224.7,413.6 225.8,392.3 226.6,384.8 227.4,381.0 228.2,386.3 229.0,398.3 230.1,434.8 230.8,478.0 233.0,478.0 233.5,458.0 234.0,447.7 234.6,450.0 235.2,472.4 235.9,458.0 236.5,446.9 237.5,427.6 238.3,412.2 239.1,434.8 239.9,462.8 241.0,471.6 241.5,450.0 242.3,420.6 242.9,405.0 243.6,413.6 244.2,426.2 244.7,413.6 245.5,399.1 246.3,380.3 247.1,365.2 247.9,357.7 248.7,356.2 249.3,363.7 249.8,413.6 250.4,369.7 250.9,365.2 251.9,357.7 253.0,347.2 254.1,336.7 255.1,331.4 255.4,328.5" fill="none" stroke="#0072BD" stroke-width="1.6" stroke-linejoin="round"/>
<polyline points="255.4,328.5 258.1,366.8 259.5,347.4 260.8,348.7 262.2,338.9 264.2,349.2 266.2,331.4 269.4,362.0 270.6,344.9 271.7,338.8 272.9,325.0 274.8,345.9 276.6,329.8 278.0,338.0 279.4,332.8 280.7,344.3 282.1,350.9 283.5,364.4 286.2,337.4 287.8,349.6 289.3,344.4 290.9,357.9 292.4,354.8 294.0,366.4 295.5,349.7 297.1,353.2 298.6,336.0 300.2,337.4 301.7,326.9 303.3,340.6 304.9,326.9 306.4,340.3 308.0,333.5 309.5,334.8 311.0,319.7 312.6,328.9 314.2,322.5 315.8,332.0 317.4,321.6 318.6,334.9 319.9,343.1 321.1,365.5 322.8,342.5 324.5,334.5 326.2,322.3 328.0,330.2 329.9,321.6 330.9,327.2 331.9,316.9 333.5,329.2 335.1,328.7 336.7,341.2 339.3,320.0 340.9,348.4 342.3,331.6 343.8,333.9 345.2,322.6 347.4,330.9 349.5,314.3 351.2,329.3 353.0,319.0 354.7,321.8 356.4,311.3 358.2,324.6 360.0,316.6 361.8,322.2 363.6,306.3 365.6,324.3 367.6,311.9 368.9,323.6 370.3,327.2 371.6,343.6 374.8,314.7 376.5,327.6 378.2,322.0 379.8,329.4 381.5,316.2 383.5,335.2 385.5,313.9 387.5,320.6 389.5,309.7 391.6,342.5 393.7,337.9 394.6,349.1 395.6,333.9 396.8,350.1 398.0,352.0 398.1,356.0" fill="none" stroke="#0072BD" stroke-width="2.3" stroke-linejoin="round"/>
<polyline points="398.1,356.0 398.4,384.0 398.7,404.5 399.0,384.0 399.4,361.0 400.1,362.0 400.6,359.0 401.2,363.0 401.8,360.0 402.4,364.0 403.0,361.0 403.5,367.0 403.9,380.0 404.7,414.0 405.4,458.0 405.8,466.0 406.2,458.0 407.1,418.0 408.4,386.0 409.4,368.0 410.4,386.0 411.7,418.0 412.8,454.0 413.3,465.0 413.8,454.0 414.4,418.0 414.9,384.0 414.9,359.7" fill="none" stroke="#0072BD" stroke-width="1.4" stroke-linejoin="round"/>
<polyline points="414.9,384.0 414.9,359.7 416.8,360.5 418.6,342.2 420.6,364.8 422.6,353.6 424.6,345.7 426.6,325.9 429.0,339.7 431.4,329.5 433.3,337.2 435.2,325.5 437.0,328.7 438.9,318.6 440.3,329.4 441.6,324.3 442.9,355.6 444.7,320.9 446.2,334.2 447.6,329.5 449.1,331.7 450.6,321.2 452.1,336.0 453.6,334.2 455.0,340.4 456.5,325.7 458.4,334.4 460.2,326.9 462.0,334.0 463.9,316.9 465.5,348.4 467.1,313.8 469.3,331.0 471.6,326.6 473.8,348.4 477.0,315.0 479.1,331.8 481.2,326.3 481.6,338.6 482.0,332.8" fill="none" stroke="#0072BD" stroke-width="2.3" stroke-linejoin="round"/>
<polyline points="45.5,478.6 45.7,470.0 46.0,440.0 46.5,415.0 47.2,398.0 48.8,386.8 49.9,379.6 50.9,380.4 52.0,374.8 53.1,377.2 54.1,380.4 54.7,390.0 55.3,405.0 55.7,411.0 56.2,395.0 56.8,386.0 57.6,388.4 58.1,398.0 58.6,442.0 59.0,478.6 59.4,478.6 59.7,440.0 60.0,398.0 61.1,380.4 62.1,373.2 62.9,372.0 63.7,374.0 64.5,377.2 65.0,386.8 65.5,398.0 65.9,426.0 66.7,458.0 67.2,478.6 70.9,478.6 71.9,442.0 72.6,410.0 73.2,398.0 73.9,380.4 74.9,377.2 75.5,380.4 76.2,398.0 76.6,402.0 77.1,412.0 77.4,425.0 77.8,442.0 78.4,478.6 83.8,478.6 84.6,442.0 85.2,402.0 85.8,374.0 86.4,364.4 87.0,374.0 87.7,398.0 88.2,440.0 88.7,478.6 89.2,478.6 89.8,440.0 90.9,398.0 92.0,382.0 92.8,374.0 93.6,370.8 94.4,366.0 95.5,360.4 96.3,366.0 97.0,382.0 97.4,398.0 98.9,478.6 101.6,478.6 102.2,420.0 102.6,398.0 103.2,374.0 104.0,358.0 105.3,346.8 106.4,338.8 107.2,335.6 108.0,332.4 109.1,326.0 109.9,330.8 110.4,338.8 111.2,350.0 112.0,366.0 112.8,382.0 113.4,398.0 113.9,478.6 114.7,478.6 115.3,440.0 116.5,398.0 117.3,374.0 118.2,365.2 119.0,374.0 119.6,390.0 120.3,420.0 121.0,445.0 121.5,454.0 122.2,440.0 123.3,420.0 124.2,413.0 125.5,440.0 126.3,452.0 127.0,442.0 127.8,456.0 128.5,458.0 129.0,441.0 129.8,440.0 130.3,455.0 131.0,470.0 131.6,458.0 132.2,452.0 132.8,465.0 133.5,478.6 134.2,478.6 134.6,458.0 135.5,426.0 136.6,414.8 137.7,410.0 138.7,405.0 139.8,394.0 140.1,393.2 140.9,391.6 141.7,396.4 142.2,400.0 143.0,426.0 144.6,450.0 145.0,451.5 145.7,426.0 146.7,410.0 147.5,399.0 147.8,391.6 148.6,390.0 149.4,393.2 150.5,394.8 151.5,393.2 152.6,394.8 153.4,390.8 154.2,390.0 155.0,393.2 155.8,398.0 156.9,410.0 157.9,442.0 158.5,466.0 159.2,478.6 162.2,478.6 162.7,458.0 163.5,426.0 164.3,402.0 164.6,398.0 165.9,390.0 167.0,383.6 167.8,382.0 168.6,386.8 169.4,383.6 170.2,382.0 171.0,386.8 171.8,398.0 172.3,410.0 173.1,434.0 173.9,458.0 174.5,478.6 177.4,478.6 177.9,442.0 178.5,418.0 179.3,458.0 180.1,476.0 180.5,478.6 180.9,440.0 181.3,398.0 181.6,382.0 182.2,371.6 183.0,377.2 183.8,383.6 184.6,380.4 185.0,386.8 185.8,377.2 186.6,370.8 187.0,373.2 187.4,367.6 188.2,370.8 189.0,366.0 189.8,368.8 190.6,363.6 191.4,366.4 192.2,361.2 193.0,362.8 193.8,356.4 194.2,358.8 194.6,353.2 195.0,359.6 195.4,358.0 196.0,363.6 196.5,361.2 197.2,366.0 197.8,362.8 198.6,366.0 199.4,361.2 200.2,364.8 201.0,360.4 201.8,364.8 202.6,361.2 203.2,363.6 203.9,358.0 204.4,360.0 205.0,354.0 205.6,360.0 206.1,358.0 206.8,361.2 207.4,356.4 208.2,358.4 209.0,352.4 209.8,354.4 210.6,348.4 211.4,353.2 212.2,366.0 212.7,398.0 213.0,450.0 213.4,420.0 214.1,382.0 215.1,366.0 216.2,350.0 217.0,344.4 217.8,343.6 218.6,348.4 219.4,358.0 220.5,370.8 221.2,385.2 221.5,426.0 222.6,475.6 223.4,442.0 224.7,410.0 225.8,386.8 226.6,378.8 227.4,374.8 228.2,380.4 229.0,393.2 230.1,434.0 230.8,478.0 233.0,478.0 233.5,458.0 234.0,447.6 234.6,450.0 235.2,472.4 235.9,458.0 236.5,446.8 237.5,426.0 238.3,408.4 239.1,434.0 239.9,462.8 241.0,471.6 241.5,450.0 242.3,418.0 242.9,400.4 243.6,410.0 244.2,424.4 244.7,410.0 245.5,394.0 246.3,374.0 247.1,358.0 247.9,350.0 248.7,348.4 249.3,356.4 249.8,410.0 250.4,362.8 250.9,358.0 251.9,350.0 253.0,338.8 254.1,327.6 255.1,322.0 255.4,323.2" fill="none" stroke="#D95319" stroke-width="2.0" stroke-linejoin="round"/>
<polyline points="255.4,323.2 258.1,362.7 259.5,342.1 260.8,343.4 262.2,333.6 264.2,343.9 266.2,326.1 269.4,359.5 270.6,339.6 271.7,333.5 272.9,319.7 274.8,340.6 276.6,324.5 278.0,332.7 279.4,327.5 280.7,339.0 282.1,345.6 283.5,362.7 286.2,332.1 287.8,344.3 289.3,339.1 290.9,352.6 292.4,349.5 294.0,361.1 295.5,344.4 297.1,347.9 298.6,330.7 300.2,332.1 301.7,321.6 303.3,335.3 304.9,321.6 306.4,335.0 308.0,328.2 309.5,329.5 311.0,314.4 312.6,323.6 314.2,317.2 315.8,326.7 317.4,316.3 318.6,329.6 319.9,337.8 321.1,365.2 322.8,337.2 324.5,329.2 326.2,317.0 328.0,324.9 329.9,316.3 330.9,321.9 331.9,311.6 333.5,323.9 335.1,323.4 336.7,338.0 339.3,314.7 340.9,343.5 342.3,326.3 343.8,328.6 345.2,317.3 347.4,325.6 349.5,309.0 351.2,324.0 353.0,313.7 354.7,316.5 356.4,306.0 358.2,319.3 360.0,311.3 361.8,316.9 363.6,301.0 365.6,319.0 367.6,306.6 368.9,318.3 370.3,321.9 371.6,337.9 374.8,309.4 376.5,322.3 378.2,316.7 379.8,324.1 381.5,310.9 383.5,329.9 385.5,308.6 387.5,315.3 389.5,304.4 391.6,337.2 393.7,332.6 394.6,343.8 395.6,328.6 396.8,344.8 398.0,346.7 398.1,352.0" fill="none" stroke="#D95319" stroke-width="2.5" stroke-linejoin="round"/>
<polyline points="398.1,352.0 398.4,380.0 398.7,401.0 399.0,380.0 399.4,356.0 400.1,357.2 400.6,354.0 401.2,358.0 401.8,354.8 402.4,359.0 403.0,356.0 403.5,362.0 403.8,374.0 404.6,410.0 405.4,455.0 405.8,465.0 406.2,455.0 407.0,414.0 408.3,382.0 409.4,363.6 410.5,382.0 411.8,414.0 412.9,450.0 413.3,459.0 413.7,450.0 414.2,414.0 414.6,380.0 414.9,354.4" fill="none" stroke="#D95319" stroke-width="1.7" stroke-linejoin="round"/>
<polyline points="414.6,380.0 414.9,354.4 416.8,355.2 418.6,336.9 420.6,359.5 422.6,348.3 424.6,340.4 426.6,320.6 429.0,334.4 431.4,324.2 433.3,331.9 435.2,320.2 437.0,323.4 438.9,313.3 440.3,324.1 441.6,319.0 442.9,353.1 444.7,315.6 446.2,328.9 447.6,324.2 449.1,326.4 450.6,315.9 452.1,330.7 453.6,328.9 455.0,335.1 456.5,320.4 458.4,329.1 460.2,321.6 462.0,328.7 463.9,311.6 465.5,345.1 467.1,308.5 469.3,325.7 471.6,321.3 473.8,344.4 477.0,309.7 479.1,326.5 481.2,321.0 481.6,333.3 482.0,327.5" fill="none" stroke="#D95319" stroke-width="2.5" stroke-linejoin="round"/>
<text x="263.8" y="508.4" text-anchor="middle" class="lb">Time[sec]</text>
<text transform="translate(18.4 382.6) rotate(-90)" text-anchor="middle" class="lb">Speed [Kmh]</text>
<rect x="45.5" y="284.6" width="201.1" height="26.7" fill="#fff" stroke="#262626" stroke-width="0.7"/>
<line x1="48.1" x2="73.4" y1="292.3" y2="292.3" stroke="#0072BD" stroke-width="2"/>
<text x="75.5" y="295.6" class="lg">Original speed target</text>
<line x1="48.1" x2="73.4" y1="304.4" y2="304.4" stroke="#D95319" stroke-width="2"/>
<text x="75.5" y="307.7" class="lg">Speed target modified by EEOptimizer</text>
<text x="342.2" y="545.5" text-anchor="middle" class="cap" style="font-size:15.6px">(<tspan>b</tspan>)</text>
</svg>
</body></html>
